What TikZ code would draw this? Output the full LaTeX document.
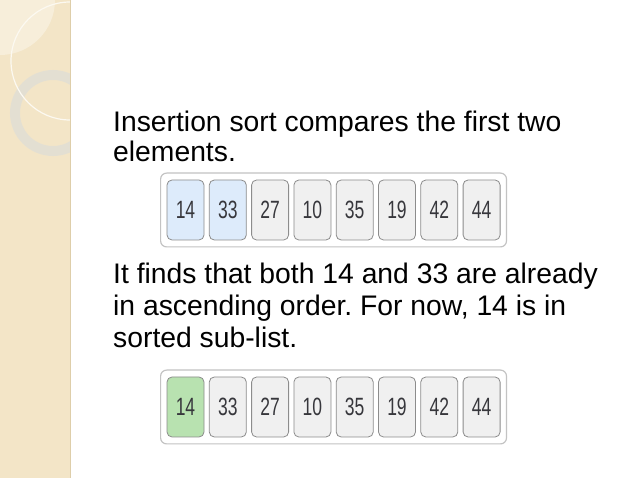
\documentclass[tikz,border=0pt]{standalone}
\usepackage{fontspec}
\setmainfont{Liberation Sans}
\newfontfamily\cellfont[FakeStretch=0.7]{Liberation Sans}
\usetikzlibrary{fit}
\frenchspacing

\definecolor{stripbeige}{RGB}{243,229,199}
\definecolor{stripedge}{RGB}{222,206,170}
\definecolor{ringgray}{RGB}{226,223,212}
\definecolor{cellline}{RGB}{140,140,140}
\definecolor{cellgray}{RGB}{240,240,240}
\definecolor{cellblue}{RGB}{221,235,251}
\definecolor{cellgreen}{RGB}{184,226,176}
\definecolor{numgray}{RGB}{55,55,60}
\definecolor{framegray}{RGB}{195,195,195}

\begin{document}
\begin{tikzpicture}[x=1pt, y=-1pt,
 para/.style={anchor=base west, align=left, inner sep=0pt,
   font={\fontsize{28.3}{#1}\selectfont}},
 cell/.style={shape=rectangle, rounded corners=5pt, draw=cellline, fill=cellgray, line width=0.8pt,
   minimum width=37pt, minimum height=60pt, inner sep=0pt, text=numgray,
   font=\cellfont\fontsize{25}{25}\selectfont},
 frame/.style={shape=rectangle, rounded corners=6pt, draw=framegray, line width=1.2pt, inner xsep=6pt, inner ysep=6.5pt},
]

\useasboundingbox (0,0) rectangle (638,478);
\fill[white] (0,0) rectangle (638,478);

%strip
\begin{scope}
\clip (0,0) rectangle (70,478);
\fill[stripbeige] (0,0) rectangle (70,478);
\fill[white, opacity=0.35] (0,0) circle (55);
\draw[ringgray, opacity=0.9, line width=10pt] (53,113) circle (38);
\draw[white!75!stripbeige, line width=1.2pt] (70,61) circle (59);
\end{scope}
\draw[stripedge, line width=1pt] (70,0) -- (70,478);

%text
\node[para=30] (intro) at (113,162) {Insertion sort compares the first two\\elements.};
\node[para=32] (finds) at (113,348) {It finds that both 14 and 33 are already\\in ascending order. For now, 14 is in\\sorted sub-list.};

%first row
\node[cell, fill=cellblue] (a1) at (185.5,210) {14};
\node[cell, fill=cellblue] (a2) at (227.8,210) {33};
\node[cell] (a3) at (270.1,210) {27};
\node[cell] (a4) at (312.4,210) {10};
\node[cell] (a5) at (354.7,210) {35};
\node[cell] (a6) at (397.0,210) {19};
\node[cell] (a7) at (439.3,210) {42};
\node[cell] (a8) at (481.6,210) {44};
\node[frame, fit=(a1)(a8)] (rowA) {};

%second row
\node[cell, fill=cellgreen] (b1) at (185.5,407) {14};
\node[cell] (b2) at (227.8,407) {33};
\node[cell] (b3) at (270.1,407) {27};
\node[cell] (b4) at (312.4,407) {10};
\node[cell] (b5) at (354.7,407) {35};
\node[cell] (b6) at (397.0,407) {19};
\node[cell] (b7) at (439.3,407) {42};
\node[cell] (b8) at (481.6,407) {44};
\node[frame, fit=(b1)(b8)] (rowB) {};

\end{tikzpicture}
\end{document}
